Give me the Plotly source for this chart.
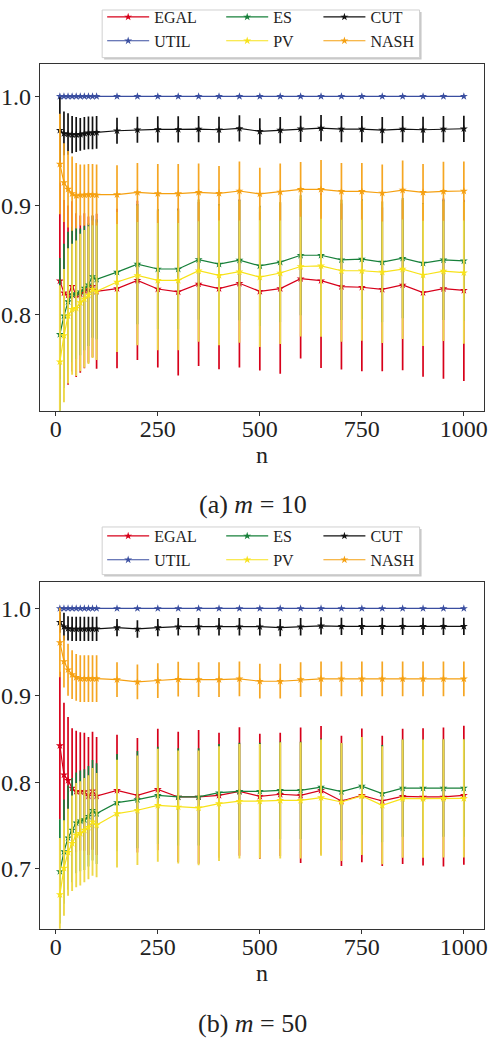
import plotly.graph_objects as go
from plotly.subplots import make_subplots

n = [10, 20, 30, 40, 50, 60, 70, 80, 90, 100, 150, 200, 250, 300, 350, 400, 450, 500,
     550, 600, 650, 700, 750, 800, 850, 900, 950, 1000]

# (a) m = 10
egal_10 = [0.831, 0.820, 0.818, 0.826, 0.818, 0.819, 0.822, 0.823, 0.826, 0.8215, 0.824, 0.8315, 0.8236, 0.821,
           0.8282, 0.824, 0.8288, 0.8215, 0.824, 0.833, 0.8312, 0.8258, 0.8252, 0.8233, 0.8273, 0.8203, 0.824, 0.8224]
egal_10_err = [0.09, 0.085, 0.082, 0.078, 0.075, 0.072, 0.071, 0.067, 0.065, 0.071, 0.073, 0.073, 0.072, 0.0765,
               0.075, 0.074, 0.077, 0.0725, 0.078, 0.073, 0.080, 0.076, 0.077, 0.075, 0.078, 0.077, 0.0825, 0.083]
util_10 = [1.0] * 28
util_10_err = [0.0005] * 28
es_10 = [0.782, 0.799, 0.812, 0.8185, 0.8195, 0.821, 0.8245, 0.8275, 0.835, 0.8325, 0.839, 0.8464, 0.8419, 0.8419,
         0.8505, 0.8464, 0.850, 0.8448, 0.8482, 0.8545, 0.8545, 0.8503, 0.8509, 0.8482, 0.8518, 0.8473, 0.8503, 0.8494]
es_10_err = [0.07, 0.066, 0.064, 0.062, 0.06, 0.058, 0.057, 0.056, 0.056, 0.055, 0.055, 0.055, 0.055, 0.055,
             0.055, 0.055, 0.055, 0.055, 0.055, 0.055, 0.055, 0.055, 0.055, 0.055, 0.055, 0.055, 0.055, 0.055]
pv_10 = [0.757, 0.781, 0.799, 0.805, 0.806, 0.8112, 0.8145, 0.818, 0.8233, 0.8215, 0.830, 0.836, 0.8315, 0.8315,
         0.8403, 0.8361, 0.8394, 0.8345, 0.8382, 0.8442, 0.8448, 0.8403, 0.8403, 0.8391, 0.8418, 0.8364, 0.840, 0.8385]
pv_10_err = [0.07, 0.061, 0.062, 0.06, 0.062, 0.063, 0.063, 0.063, 0.063, 0.063, 0.064, 0.064, 0.064, 0.064,
             0.065, 0.064, 0.065, 0.064, 0.065, 0.064, 0.065, 0.065, 0.064, 0.065, 0.064, 0.065, 0.064, 0.065]
cut_10 = [0.969, 0.966, 0.9655, 0.965, 0.965, 0.9652, 0.966, 0.9665, 0.9665, 0.967, 0.9685, 0.9694, 0.9697, 0.9697,
          0.970, 0.9694, 0.9706, 0.968, 0.9691, 0.9703, 0.9709, 0.970, 0.970, 0.9691, 0.970, 0.9694, 0.970, 0.9703]
cut_10_err = [0.03, 0.02, 0.019, 0.017, 0.016, 0.015, 0.015, 0.015, 0.015, 0.015, 0.012, 0.012, 0.012, 0.012,
              0.012, 0.012, 0.012, 0.012, 0.012, 0.012, 0.012, 0.012, 0.012, 0.012, 0.012, 0.012, 0.012, 0.012]
nash_10 = [0.938, 0.921, 0.915, 0.911, 0.909, 0.9097, 0.9097, 0.910, 0.910, 0.9097, 0.910, 0.912, 0.911, 0.911,
           0.9121, 0.9112, 0.9133, 0.9106, 0.9124, 0.9148, 0.9148, 0.913, 0.913, 0.9115, 0.9142, 0.9121, 0.913, 0.9133]
nash_10_err = [0.046, 0.036, 0.035, 0.034, 0.03, 0.028, 0.028, 0.028, 0.028, 0.028, 0.027, 0.027, 0.027, 0.027,
               0.0265, 0.025, 0.027, 0.024, 0.026, 0.025, 0.027, 0.026, 0.026, 0.026, 0.027, 0.026, 0.027, 0.027]

# (b) m = 50
egal_50 = [0.842, 0.8084, 0.802, 0.7931, 0.7893, 0.7893, 0.789, 0.784, 0.790, 0.784, 0.7905, 0.7848, 0.7916, 0.7829,
           0.7829, 0.7848, 0.7893, 0.7836, 0.786, 0.7848, 0.7905, 0.7783, 0.7848, 0.7783, 0.7836, 0.7829, 0.7829, 0.7848]
egal_50_err = [0.085, 0.083, 0.073, 0.069, 0.07, 0.068, 0.068, 0.068, 0.068, 0.068, 0.064, 0.066, 0.07, 0.075,
               0.077, 0.072, 0.074, 0.072, 0.071, 0.078, 0.074, 0.075, 0.077, 0.075, 0.078, 0.079, 0.08, 0.08]
util_50 = [1.0] * 28
util_50_err = [0.0005] * 28
es_50 = [0.6971, 0.72, 0.736, 0.7448, 0.7531, 0.7554, 0.7569, 0.7607, 0.7676, 0.7638, 0.7764, 0.7798, 0.7848, 0.7829,
         0.7829, 0.7878, 0.7893, 0.7893, 0.7905, 0.7905, 0.7943, 0.789, 0.7954, 0.7867, 0.7931, 0.7931, 0.7931, 0.7931]
es_50_err = [0.06, 0.06, 0.06, 0.06, 0.058, 0.058, 0.058, 0.058, 0.058, 0.058, 0.056, 0.056, 0.056, 0.056,
             0.056, 0.056, 0.056, 0.056, 0.056, 0.056, 0.056, 0.056, 0.056, 0.056, 0.056, 0.056, 0.056, 0.056]
pv_50 = [0.6705, 0.701, 0.7192, 0.7295, 0.739, 0.741, 0.7448, 0.748, 0.7543, 0.7505, 0.7638, 0.7676, 0.7733, 0.7714,
         0.7703, 0.7752, 0.778, 0.778, 0.779, 0.779, 0.7821, 0.7771, 0.784, 0.7733, 0.781, 0.781, 0.7813, 0.7813]
pv_50_err = [0.065, 0.055, 0.05, 0.055, 0.06, 0.06, 0.06, 0.06, 0.062, 0.06, 0.062, 0.063, 0.065, 0.065,
             0.066, 0.066, 0.066, 0.066, 0.067, 0.067, 0.067, 0.068, 0.068, 0.068, 0.068, 0.068, 0.068, 0.068]
cut_50 = [0.984, 0.979, 0.977, 0.9764, 0.9764, 0.9764, 0.9764, 0.9765, 0.9766, 0.9766, 0.978, 0.9764, 0.978, 0.979,
          0.979, 0.979, 0.979, 0.979, 0.978, 0.979, 0.980, 0.9794, 0.9794, 0.9794, 0.9794, 0.9794, 0.9794, 0.9794]
cut_50_err = [0.012, 0.016, 0.014, 0.014, 0.014, 0.014, 0.014, 0.014, 0.014, 0.014, 0.01, 0.01, 0.01, 0.01,
              0.01, 0.01, 0.01, 0.01, 0.01, 0.01, 0.01, 0.01, 0.01, 0.01, 0.01, 0.01, 0.01, 0.01]
nash_50 = [0.9608, 0.939, 0.9295, 0.9238, 0.9207, 0.9192, 0.9192, 0.9192, 0.9192, 0.9192, 0.918, 0.9154, 0.917, 0.9185,
           0.918, 0.918, 0.919, 0.9162, 0.9162, 0.918, 0.919, 0.919, 0.919, 0.919, 0.919, 0.919, 0.919, 0.919]
nash_50_err = [0.04, 0.03, 0.03, 0.028, 0.027, 0.027, 0.027, 0.027, 0.027, 0.027, 0.02, 0.02, 0.02, 0.02,
               0.02, 0.02, 0.02, 0.02, 0.02, 0.02, 0.02, 0.02, 0.02, 0.02, 0.02, 0.02, 0.02, 0.02]

names = ['EGAL', 'UTIL', 'ES', 'PV', 'CUT', 'NASH']
colors = ['#d7001a', '#3a4ea0', '#17803a', '#f7e21a', '#111111', '#f5a011']
err_colors = ['#d7001a', '#3a4ea0', '#17803a', '#eed84a', '#111111', '#f5a623']
# legend columns (matplotlib ncol=3 fills column-wise): EGAL/UTIL, ES/PV, CUT/NASH
legend_col = [0, 0, 1, 1, 2, 2]
legend_ids = [['legend', 'legend3', 'legend4'], ['legend2', 'legend5', 'legend6']]

panels = [
    ([egal_10, util_10, es_10, pv_10, cut_10, nash_10],
     [egal_10_err, util_10_err, es_10_err, pv_10_err, cut_10_err, nash_10_err]),
    ([egal_50, util_50, es_50, pv_50, cut_50, nash_50],
     [egal_50_err, util_50_err, es_50_err, pv_50_err, cut_50_err, nash_50_err]),
]

FONT = 'Liberation Serif'
W, H = 495, 1038
fig = make_subplots(rows=2, cols=1)

for row, (vals, errs) in enumerate(panels, start=1):
    for i, (nm, c, ec, v, e) in enumerate(zip(names, colors, err_colors, vals, errs)):
        fig.add_trace(go.Scatter(
            x=n, y=v, name=nm, mode='lines+markers',
            line=dict(color=c, width=1.2),
            marker=dict(symbol='star', size=6, color=c),
            error_y=dict(type='data', array=e, thickness=1.9 if nm == 'PV' else 1.7, width=0, color=ec),
            legend=legend_ids[row-1][legend_col[i]], legendrank=i,
        ), row=row, col=1)

ax = dict(showline=True, mirror=True, linecolor='#333', linewidth=1, ticks='outside',
          ticklen=4, tickcolor='#333', showgrid=False, zeroline=False,
          tickfont=dict(family=FONT, size=24, color='#222'))

fig.update_xaxes(**ax, range=[-39.5, 1049.5], tickvals=[0, 250, 500, 750, 1000],
                 domain=[40/W, 488/W], ticklabelstandoff=-8)
fig.update_yaxes(**ax, tickformat='.1f', ticklabelstandoff=-1)
fig.update_yaxes(range=[0.712, 1.030], tickvals=[0.8, 0.9, 1.0],
                 domain=[1-406/H, 1-56/H], row=1, col=1)
fig.update_yaxes(range=[0.631, 1.031], tickvals=[0.7, 0.8, 0.9, 1.0],
                 domain=[1-928/H, 1-578/H], row=2, col=1)

# one borderless vertical legend per column, framed by a shared box
col_x = [103, 223, 321]
legends = {}
shapes = []
for p, (top, shift) in enumerate([(2, 10), (523, 8)]):
    for k, lid in enumerate(legend_ids[p]):
        legends[lid] = dict(orientation='v', x=col_x[k]/W, xanchor='left', y=1-(top-shift)/H, yanchor='top',
                            bgcolor='rgba(0,0,0,0)', borderwidth=0, tracegroupgap=0, itemwidth=42,
                            font=dict(family=FONT, size=16, color='#222'))
    shapes.append(dict(type='rect', xref='paper', yref='paper', x0=105/W, x1=425/W,
                       y0=1-(top+50)/H, y1=1-(top+2)/H, line=dict(width=0), fillcolor='#c8c8c8', layer='above'))
    shapes.append(dict(type='rect', xref='paper', yref='paper', x0=103/W, x1=423/W,
                       y0=1-(top+48)/H, y1=1-top/H, line=dict(color='#d0d0d0', width=1),
                       fillcolor='white', layer='above'))

notes = []
for text, y in [('n', 450), ('(a) <i>m</i> = 10', 500), ('n', 972), ('(b) <i>m</i> = 50', 1023)]:
    notes.append(dict(text=text, x=(264 if text == 'n' else 255)/W, y=1-y/H, xref='paper', yref='paper',
                      xanchor='center', yanchor='middle', showarrow=False,
                      font=dict(family=FONT, size=24 if text == 'n' else 26, color='#222')))

fig.update_layout(
    width=W, height=H,
    margin=dict(l=0, r=0, t=0, b=0),
    font=dict(family=FONT),
    plot_bgcolor='white', paper_bgcolor='white',
    shapes=shapes,
    annotations=notes,
    **legends,
)

fig.write_html('out.html', config={'displayModeBar': False},
               post_script="document.body.style.margin='0';")
